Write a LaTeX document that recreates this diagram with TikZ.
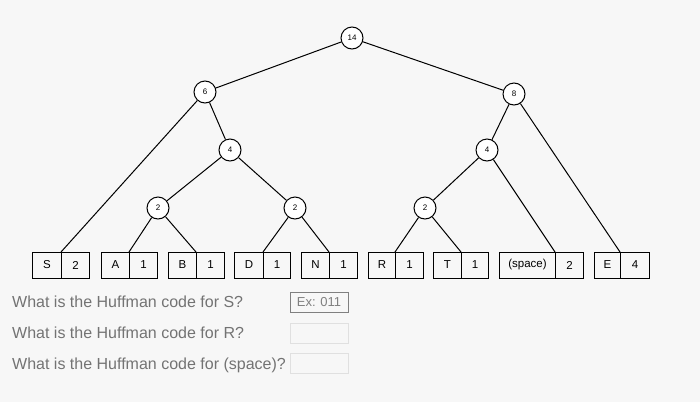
\documentclass[tikz,border=0pt]{standalone}
\usepackage{fontspec}
\setmainfont{Liberation Sans}
\begin{document}
\begin{tikzpicture}[x=1pt,y=-1pt,
  circ/.style={circle,draw,line width=1pt,minimum size=22pt,inner sep=0pt,font=\fontsize{8}{9}\selectfont,fill=white},
  half/.style={draw,line width=1pt,minimum height=26pt,inner sep=0pt,font=\fontsize{11.5}{12}\selectfont},
  edge/.style={line width=1pt},
  q/.style={anchor=west,text=black!55,font=\fontsize{16}{17}\selectfont,inner sep=0pt},
  ans/.style={draw=black!12,minimum width=58pt,minimum height=20pt,inner sep=0pt,text=black!50,font=\fontsize{13}{14}\selectfont}]
\fill[black!3] (0,0) rectangle (700,402);
\useasboundingbox (0,0) rectangle (700,402);
\foreach \n/\l/\w/\a/\b/\c in {S/S/2/32/61/89, A/A/1/101/129/157, B/B/1/168/196/224, D/D/1/234/263/290, N/N/1/301/329/357, R/R/1/368/395/423, T/T/1/433/461/488, Sp/(space)/2/499/555/583, E/E/4/594/620/649}{
  \node[half,minimum width={\b-\a},anchor=west] (\n l) at (\a,265) {\l};
  \node[half,minimum width={\c-\b},anchor=west] (\n r) at (\b,265) {\w};
  \coordinate (\n) at (\b,252);
}
\node[circ] (n14) at (352,38) {14};
\node[circ] (n6) at (205,92) {6};
\node[circ] (n8) at (514,94) {8};
\node[circ] (n4a) at (230,150) {4};
\node[circ] (n4b) at (487,150) {4};
\node[circ] (n2a) at (158,208) {2};
\node[circ] (n2b) at (295,208) {2};
\node[circ] (n2c) at (425,208) {2};
\draw[edge] (n14) -- (n6); \draw[edge] (n14) -- (n8);
\draw[edge] (n6) -- (S); \draw[edge] (n6) -- (n4a);
\draw[edge] (n4a) -- (n2a); \draw[edge] (n4a) -- (n2b);
\draw[edge] (n2a) -- (A); \draw[edge] (n2a) -- (B);
\draw[edge] (n2b) -- (D); \draw[edge] (n2b) -- (N);
\draw[edge] (n8) -- (n4b); \draw[edge] (n8) -- (E);
\draw[edge] (n4b) -- (n2c); \draw[edge] (n4b) -- (Sp);
\draw[edge] (n2c) -- (R); \draw[edge] (n2c) -- (T);
\node[q] (q1) at (12,302) {What is the Huffman code for S?};
\node[q] (q2) at (12,333) {What is the Huffman code for R?};
\node[q] (q3) at (12,365) {What is the Huffman code for (space)?};
\node[ans,draw=black!50,line width=0.8pt] (a1) at (319,302) {Ex: 011};
\node[ans] (a2) at (319,333) {};
\node[ans] (a3) at (319,363) {};
\end{tikzpicture}
\end{document}
